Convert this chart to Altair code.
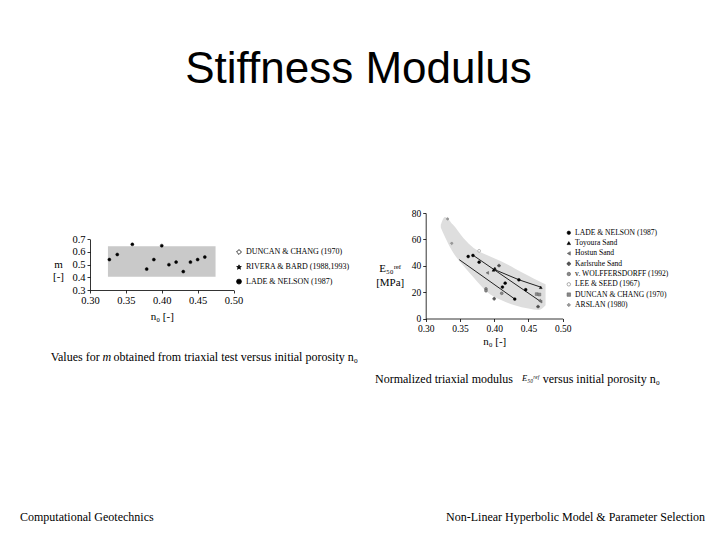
import altair as alt
import pandas as pd

SERIF = "Liberation Serif"
SANS = "Liberation Sans"

# ---------------- slide texts ----------------
slide_title = ["Stiffness Modulus"]
footer_left = ["Computational Geotechnics"]
footer_right = ["Non-Linear Hyperbolic Model & Parameter Selection"]
cap1_parts = ["Values for", "m", "obtained from triaxial test versus initial porosity n\u2080"]
cap2_parts = ["Normalized triaxial modulus", "E\u2085\u2080\u02b3\u1d49\u1da0", "versus initial porosity n\u2080"]

# ---------------- chart 1: m vs n0 ----------------
m_series_names = ["DUNCAN & CHANG (1970)", "RIVERA & BARD (1988,1993)", "LADE & NELSON (1987)"]
m_n0 = [0.327, 0.338, 0.359, 0.379, 0.389, 0.400, 0.410, 0.420, 0.430, 0.440, 0.450, 0.460]
m_val = [0.54, 0.58, 0.66, 0.465, 0.54, 0.65, 0.50, 0.52, 0.445, 0.52, 0.54, 0.56]
m_src = ["LADE & NELSON (1987)"] * len(m_n0)
m_band_n0 = [0.325, 0.475]
m_band_m = [0.405, 0.645]
m_xticks = [0.30, 0.35, 0.40, 0.45, 0.50]
m_yticks = [0.3, 0.4, 0.5, 0.6, 0.7]

# ---------------- chart 2: E50ref vs n0 ----------------
e_series_names = ["LADE & NELSON (1987)", "Toyoura Sand", "Hostun Sand", "Karlsruhe Sand",
                  "v. WOLFFERSDORFF (1992)", "LEE & SEED (1967)", "DUNCAN & CHANG (1970)", "ARSLAN (1980)"]
e_n0 = [0.332, 0.338, 0.378, 0.362, 0.369, 0.378, 0.390, 0.399, 0.401, 0.407,
        0.416, 0.412, 0.388, 0.388, 0.411, 0.400, 0.430, 0.436, 0.446, 0.462,
        0.464, 0.468, 0.466, 0.468, 0.466]
e_val = [75.5, 57.0, 51.3, 47.0, 47.8, 42.7, 34.6, 36.8, 38.0, 40.1,
         26.8, 23.8, 22.4, 21.0, 19.1, 15.0, 14.7, 29.3, 21.8, 18.5,
         9.0, 23.6, 13.6, 12.8, 18.2]
e_src = ["ARSLAN (1980)", "ARSLAN (1980)", "LEE & SEED (1967)", "LADE & NELSON (1987)", "LADE & NELSON (1987)",
         "LADE & NELSON (1987)", "Hostun Sand", "Toyoura Sand", "Toyoura Sand", "Karlsruhe Sand",
         "LADE & NELSON (1987)", "LADE & NELSON (1987)", "v. WOLFFERSDORFF (1992)", "v. WOLFFERSDORFF (1992)",
         "v. WOLFFERSDORFF (1992)", "Karlsruhe Sand", "LADE & NELSON (1987)", "LADE & NELSON (1987)",
         "LADE & NELSON (1987)", "DUNCAN & CHANG (1970)", "Karlsruhe Sand", "Toyoura Sand", "Hostun Sand",
         "Hostun Sand", "DUNCAN & CHANG (1970)"]
e_line_id = ["a", "a", "b", "b", "c", "c", "c"]
e_line_n0 = [0.349, 0.4305, 0.3696, 0.468, 0.400, 0.4364, 0.468]
e_line_val = [44.6, 14.6, 47.8, 12.8, 37.2, 29.3, 23.8]
e_band_n0 = [0.322, 0.328, 0.340, 0.355, 0.370, 0.390, 0.410, 0.430, 0.450, 0.465, 0.475]
e_band_up = [71.0, 77.0, 71.0, 61.0, 53.5, 48.0, 43.5, 38.0, 32.5, 28.5, 26.0]
e_band_lo = [69.0, 62.0, 50.0, 40.0, 31.0, 20.0, 14.0, 10.0, 7.5, 6.5, 10.0]
e_xticks = [0.30, 0.35, 0.40, 0.45, 0.50]
e_yticks = [0, 20, 40, 60, 80]

STAR = ("M0,-1L0.235,-0.324L0.951,-0.309L0.38,0.124L0.588,0.809L0,0.4"
        "L-0.588,0.809L-0.38,0.124L-0.951,-0.309L-0.235,-0.324Z")

axis_style = dict(grid=False, domainColor="black", domainWidth=0.8, tickColor="black",
                  tickWidth=0.8, tickSize=3, labelColor="black", labelFont=SERIF,
                  labelPadding=2, labelFlush=False, labelOverlap=False,
                  titleFont=SERIF, titleFontWeight="normal", titleColor="black")

# ---------- chart 1 ----------
ax1x = alt.Axis(orient="bottom", offset=-242, values=m_xticks, format=".2f", labelFontSize=10.5,
                title="n\u2080 [-]", titleFontSize=11, titleY=26, titleBaseline="middle", **axis_style)
ax1y = alt.Axis(orient="left", offset=-82, values=m_yticks, format=".1f", labelFontSize=10.5,
                title=["m", "[-]"], titleFontSize=11, titleAngle=0, titleX=-32, titleY=256,
                titleAlign="center", titleBaseline="middle", titleLineHeight=12, **axis_style)
x1 = alt.X("n0:Q", scale=alt.Scale(domain=[0.30, 0.50], range=[82, 225.5], zero=False, nice=False), axis=ax1x)
y1 = alt.Y("m:Q", scale=alt.Scale(domain=[0.3, 0.7], range=[282, 231.3], zero=False, nice=False), axis=ax1y)

band1_df = pd.DataFrame({"n0": [m_band_n0[0]], "n0b": [m_band_n0[1]],
                         "m": [m_band_m[0]], "mb": [m_band_m[1]]})
band1 = alt.Chart(band1_df).mark_rect(fill="#c9c9c9").encode(x=x1, x2="n0b:Q", y=y1, y2="mb:Q")

leg1 = alt.Legend(title=None, orient="none", legendX=227, legendY=240, labelFont=SERIF,
                  labelFontSize=8, labelColor="black", symbolSize=24,
                  symbolStrokeWidth=0.8, rowPadding=5.3, labelOffset=3, padding=0)
pts1_df = pd.DataFrame({"n0": m_n0, "m": m_val, "series": m_src})
pts1 = alt.Chart(pts1_df).mark_point(filled=True, size=9, strokeWidth=0.5, opacity=1).encode(
    x=x1, y=y1,
    shape=alt.Shape("series:N", scale=alt.Scale(domain=m_series_names, range=["diamond", STAR, "circle"]), legend=leg1),
    fill=alt.Fill("series:N", scale=alt.Scale(domain=m_series_names, range=["white", "black", "black"]), legend=leg1),
    stroke=alt.Stroke("series:N", scale=alt.Scale(domain=m_series_names, range=["black", "black", "black"]), legend=leg1),
)
c1 = alt.layer(band1, pts1)

# ---------- chart 2 ----------
ax2x = alt.Axis(orient="bottom", offset=-213.5, values=e_xticks, format=".2f", labelFontSize=9.5,
                title="n\u2080 [-]", titleFontSize=11, titleY=22.5, titleBaseline="middle", **axis_style)
ax2y = alt.Axis(orient="left", offset=-417.7, values=e_yticks, format=".0f", labelFontSize=9.5,
                title=["E\u2085\u2080\u02b3\u1d49\u1da0", "[MPa]"], titleFontSize=11, titleAngle=0,
                titleX=-36, titleY=260, titleAlign="center", titleBaseline="middle",
                titleLineHeight=14, **axis_style)
x2 = alt.X("n0:Q", scale=alt.Scale(domain=[0.30, 0.50], range=[417.7, 554.7], zero=False, nice=False), axis=ax2x)
y2 = alt.Y("E:Q", scale=alt.Scale(domain=[0, 80], range=[310.5, 205], zero=False, nice=False), axis=ax2y)

band2_df = pd.DataFrame({"n0": e_band_n0, "E": e_band_lo, "E2": e_band_up})
band2 = alt.Chart(band2_df).mark_area(fill="#dedede", interpolate="monotone").encode(x=x2, y=y2, y2="E2:Q")

lines2_df = pd.DataFrame({"n0": e_line_n0, "E": e_line_val, "fit": e_line_id})
lines2 = alt.Chart(lines2_df).mark_line(color="#222222", strokeWidth=1).encode(x=x2, y=y2, detail="fit:N")

leg2 = alt.Legend(title=None, orient="none", legendX=557, legendY=221, labelFont=SERIF,
                  labelFontSize=7.6, labelColor="black", symbolSize=12,
                  symbolStrokeWidth=0.6, rowPadding=1.3, labelOffset=2.5, padding=0)
e_shapes = ["circle", "triangle-up", "triangle-left", "cross", "circle", "circle", "square", "diamond"]
e_fills = ["black", "black", "#777777", "#555555", "#8a8a8a", "#ffffff", "#888888", "#999999"]
e_strokes = ["black", "black", "#555555", "#444444", "#555555", "#777777", "#666666", "#777777"]
pts2_df = pd.DataFrame({"n0": e_n0, "E": e_val, "series": e_src})
pts2 = alt.Chart(pts2_df).mark_point(filled=True, size=8, strokeWidth=0.5, opacity=1).encode(
    x=x2, y=y2,
    shape=alt.Shape("series:N", scale=alt.Scale(domain=e_series_names, range=e_shapes), legend=leg2),
    fill=alt.Fill("series:N", scale=alt.Scale(domain=e_series_names, range=e_fills), legend=leg2),
    stroke=alt.Stroke("series:N", scale=alt.Scale(domain=e_series_names, range=e_strokes), legend=leg2),
)
c2 = alt.layer(band2, lines2, pts2)


# ---------- slide text ----------
def text_layer(txt, x, y, size, font=SERIF, align="left", baseline="middle", style="normal"):
    return alt.Chart(pd.DataFrame({"t": txt})).mark_text(
        font=font, fontSize=size, align=align, baseline=baseline, fontStyle=style, color="black"
    ).encode(text="t:N", x=alt.value(x), y=alt.value(y))


texts = [
    text_layer(slide_title, 350.5, 75, 44, font=SANS, align="center", baseline="alphabetic"),
    text_layer([cap1_parts[0]], 42.7, 349, 12),
    text_layer([cap1_parts[1]], 94.5, 349, 12, style="italic"),
    text_layer([cap1_parts[2]], 105.5, 349, 12),
    text_layer([cap2_parts[0]], 367, 371, 12),
    text_layer([cap2_parts[1]], 514, 370, 8.5, style="italic"),
    text_layer([cap2_parts[2]], 534.7, 371, 12),
    text_layer(footer_left, 12, 509, 12),
    text_layer(footer_right, 697, 509, 12, align="right"),
]

chart = alt.layer(c1, c2, *texts).resolve_scale(
    x="independent", y="independent", shape="independent", fill="independent", stroke="independent"
).resolve_legend(shape="independent", fill="independent", stroke="independent").properties(
    width=704, height=524, padding=0, autosize=alt.AutoSizeParams(type="none")
).configure_view(stroke=None)

chart.save("out.html", embed_options={"renderer": "svg", "actions": False})
